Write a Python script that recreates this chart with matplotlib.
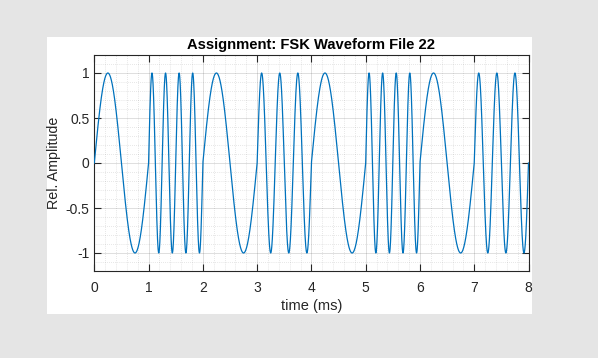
import numpy as np
import matplotlib
matplotlib.use("Agg")
import matplotlib.pyplot as plt
from matplotlib.patches import Rectangle
from matplotlib.ticker import MultipleLocator

# Data: one symbol per millisecond, tone frequency (kHz)
symbol_start_ms = [0, 1, 2, 3, 4, 5, 6, 7]
symbol_freq_khz = [1, 4, 1, 3, 1, 4, 1, 3]
symbol_len_ms = 1.0
samples_per_symbol = 400

title = "Assignment: FSK Waveform File 22"
xlabel = "time (ms)"
ylabel = "Rel. Amplitude"
xticks = [0, 1, 2, 3, 4, 5, 6, 7, 8]
yticks = [-1, -0.5, 0, 0.5, 1]
yticklabels = ["-1", "-0.5", "0", "0.5", "1"]

# build the waveform from the symbol table
t_parts, s_parts = [], []
for t0, f in zip(symbol_start_ms, symbol_freq_khz):
    tt = np.linspace(t0, t0 + symbol_len_ms, samples_per_symbol, endpoint=False)
    t_parts.append(tt)
    s_parts.append(np.sin(2 * np.pi * f * (tt - t0)))
t_parts.append(np.array([symbol_start_ms[-1] + symbol_len_ms]))
s_parts.append(np.array([0.0]))
t = np.concatenate(t_parts)
s = np.concatenate(s_parts)

plt.rcParams['font.family'] = ['Liberation Sans', 'DejaVu Sans']
fig = plt.figure(figsize=(5.98, 3.58), dpi=100, facecolor="#e5e5e5")
bg = Rectangle((47 / 598, 1 - 314 / 358), (532 - 47) / 598, (314 - 37) / 358,
               transform=fig.transFigure, facecolor="white", edgecolor="none", zorder=-10)
fig.add_artist(bg)

ax = fig.add_axes([94.3 / 598, 1 - 271 / 358, (528.5 - 94.3) / 598, 216 / 358])
ax.set_zorder(1)
ax.plot(t, s, color="#0072BD", lw=0.9, zorder=3)
ax.set_xlim(0, 8)
ax.set_ylim(-1.2, 1.2)
ax.set_xticks(xticks)
ax.set_xticklabels([str(v) for v in xticks])
ax.set_yticks(yticks)
ax.set_yticklabels(yticklabels)
ax.xaxis.set_minor_locator(MultipleLocator(0.2))
ax.yaxis.set_minor_locator(MultipleLocator(0.1))

axcol = "#262626"
for sp in ax.spines.values():
    sp.set_color(axcol)
    sp.set_linewidth(0.8)
ax.tick_params(which="major", direction="in", length=5, width=0.8, color=axcol,
               top=True, right=True, labelsize=10, labelcolor=axcol)
ax.tick_params(axis="x", which="major", pad=7)
ax.tick_params(axis="y", which="major", pad=3.5)
ax.tick_params(which="minor", length=0, top=True, right=True)
ax.grid(which="major", color="#262626", alpha=0.15, lw=0.7)
ax.grid(which="minor", color="#262626", alpha=0.22, lw=0.5, linestyle=(0, (1, 2)))
ax.set_axisbelow(True)

ax.set_title(title, fontsize=10.6, fontweight="bold", color="black", pad=4.5)
ax.set_xlabel(xlabel, fontsize=10.5, color=axcol, labelpad=3)
ax.set_ylabel(ylabel, fontsize=10.3, color=axcol, labelpad=3)

fig.savefig("out.png", dpi=100, facecolor=fig.get_facecolor())
